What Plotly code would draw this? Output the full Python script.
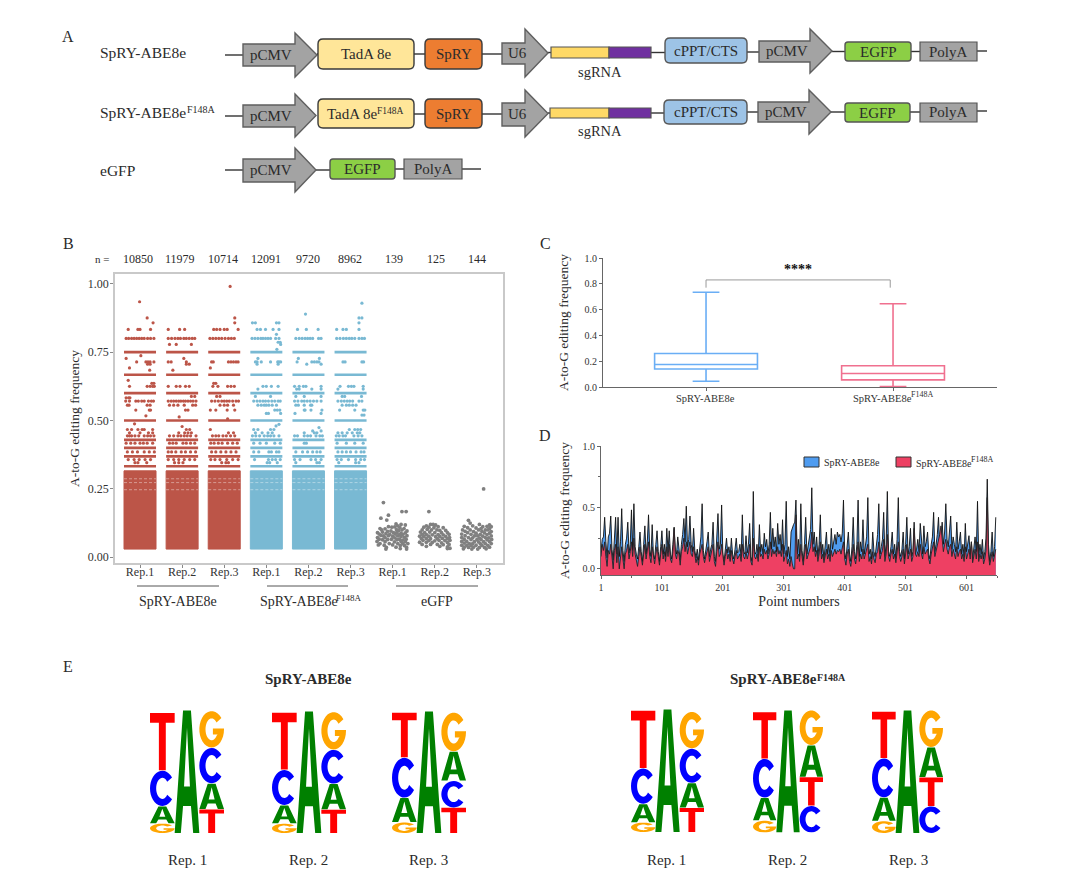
import math
import plotly.graph_objects as go

# ---------- data ----------
W, H = 1080, 886
FONT = "Liberation Serif"
INK = "#2b2b2b"

# Panel B
n_counts = ["10850", "11979", "10714", "12091", "9720", "8962", "139", "125", "144"]
rep_labels = ["Rep.1", "Rep.2", "Rep.3"] * 3
# The lower part of each column is saturated in the picture: individual points cannot be
# read, so it is shown as the solid block that it appears as, with its visible edges.
dense_low = 0.03
dense_high = 0.316
gap_levels = [0.247, 0.273, 0.287]
band_levels = [0.75, 0.667, 0.6, 0.5, 0.429, 0.4, 0.369, 0.333]

abe_rep1 = [(.934,[-.01]),(.875,[.17]),(.857,[.31]),(.833,[-.28,-.05,.0,.25]),
 (.8,[-.33,-.27,-.2,-.14,-.08,-.02,.04,.1,.18,.25,.33]),(.737,[.02]),(.727,[-.33]),(.714,[-.08,.14,.19,.24,.33]),
 (.706,[.18,.24]),(.692,[-.25]),(.684,[.23]),(.647,[-.28]),(.636,[.28,.33]),(.625,[-.25,.17,.24,.3,.34]),
 (.583,[-.33,-.27,-.24]),(.571,[-.34,-.25,-.1,-.04,.04,.1,.2,.27,.32]),(.556,[-.3,-.26,.17,.24]),(.538,[-.1,.22,.25]),
 (.517,[.14]),(.488,[-.13]),(.467,[-.3,-.2,-.05,.05,.1,.3]),(.455,[-.25,.0,.2,.3]),
 (.444,[-.3,-.25,-.2,-.12,-.03,.1,.18,.25,.33]),(.417,[-.33,-.22,-.12,.0,.08,.17,.3]),(.385,[-.3,-.18,-.06,.1,.22,.34]),
 (.357,[-.28,-.14,-.02,.12,.25]),(.346,[-.12,-.05,.16])]
abe_rep2 = [(.833,[-.33,-.06,.06]),(.8,[-.33,-.25,-.17,-.1,-.04,.04,.1,.17,.24,.3]),(.778,[-.3,-.14,.22]),
 (.727,[.04]),(.714,[-.33,-.26,.1]),(.706,[.1,.17]),(.684,[-.22]),(.625,[-.33,-.14,-.05,.08,.17]),(.588,[.22,.3]),
 (.571,[-.33,-.26,-.2,-.14,-.08,-.03,.03,.08,.14,.2,.26,.33]),(.556,[-.3,-.2,-.1,.05,.25,.32]),(.538,[.08,.14]),
 (.513,[-.07]),(.478,[.0]),(.467,[.1,.18]),(.455,[-.08,.06,.14,.22]),(.444,[-.3,-.2,-.1,-.03,.05,.12,.2,.33]),
 (.417,[-.3,-.22,-.14,.02,.1,.2,.3]),(.385,[-.33,-.25,-.15,-.02,.08,.2,.32]),(.357,[-.33,-.2,-.08,.05,.18,.3]),
 (.346,[-.18,-.08,.02])]
abe_rep3 = [(.99,[.14]),(.875,[.25]),(.857,[.25]),(.833,[-.25,-.18,-.1,.0,.07,.33]),
 (.8,[-.34,-.27,-.2,-.13,-.06,.02,.1,.17,.24]),(.714,[-.3,-.26,.1,.16,.22,.28,.33]),(.692,[-.33]),
 (.636,[-.25,-.2]),(.625,[-.27,-.15,.08,.16,.24]),(.588,[-.18,-.1]),
 (.571,[-.3,-.22,-.14,-.06,.0,.06,.12,.2,.28,.34]),(.556,[-.1,.0,.08,.22]),(.538,[-.33,-.2,.07,.25]),(.506,[.08]),
 (.467,[-.33]),(.455,[.1,.22]),(.444,[-.28,-.2,-.13,-.03,.05,.15,.25]),(.417,[-.32,-.24,-.14,-.05,.08,.2,.31]),
 (.385,[-.3,-.2,-.08,.04,.16,.28]),(.357,[-.32,-.22,-.1,.06,.2,.33]),(.346,[-.06,.04,.1])]
f148_rep1 = [(.857,[-.33,-.26,.24,.3]),(.833,[-.22,-.14,-.02,.16,.3]),(.815,[.24]),
 (.8,[-.34,-.27,-.2,-.13,-.08,-.02,.04,.1,.22,.3]),(.786,[.28,.33]),(.778,[.34]),(.76,[.25]),(.727,[-.2]),
 (.714,[-.26,-.22,-.12,.1,.27,.3,.34]),(.706,[-.22,.28]),(.625,[-.08,.0,.12,.28]),(.615,[-.2]),(.588,[-.26,.1]),
 (.571,[-.3,-.22,-.15,-.08,-.02,.05,.13,.2,.28,.33]),(.556,[-.2,-.12,-.05,.0,.06,.14,.24]),(.538,[.2,.26,.32]),
 (.526,[.0,.05,.34]),(.486,[.3]),(.48,[.23]),(.467,[-.3,-.2,.1,.18]),(.455,[-.26,-.1,.04,.14]),
 (.444,[-.33,-.25,-.16,-.05,.03,.1,.18,.3]),(.417,[-.3,-.15,.0,.2,.33]),(.385,[-.3,-.18,.06,.12,.24,.3]),
 (.357,[-.28,.05,.14,.22,.33]),(.346,[.02,.08,.26])]
f148_rep2 = [(.889,[-.07]),(.833,[-.26,-.05,.23]),(.8,[-.3,-.22,-.15,-.08,-.02,.04,.1,.24,.3]),
 (.727,[-.24,.26]),(.714,[-.27,.08,.14,.2,.25]),(.706,[-.04,.3]),(.625,[-.33,-.22,-.12,-.06,.3]),
 (.615,[-.28,-.22,.08,.3]),(.588,[-.3,-.1,.3]),(.571,[-.33,-.25,-.16,-.1,-.03,.04,.12,.2,.3]),(.556,[-.3,-.24,-.1,.05,.08]),
 (.538,[-.1,-.08,.06,.32]),(.526,[-.32,.3]),(.474,[.25]),(.462,[.1,.3]),(.455,[-.1,.14,.2]),
 (.444,[-.33,-.26,-.1,-.02,.05,.18,.27,.33]),(.417,[-.1,-.05]),(.385,[-.3,-.14,-.02,.1,.2,.28]),
 (.357,[-.33,-.2,.06,.17,.3]),(.346,[-.3,.2,.26])]
f148_rep3 = [(.929,[.27]),(.875,[.2,.27]),(.857,[.2]),(.833,[-.33,-.18,-.1,.2]),
 (.8,[-.33,-.25,-.17,-.1,-.03,.03,.1,.2,.27,.33]),(.714,[-.18,-.13,.27,.31]),(.625,[-.25,-.05,.02,.08,.3]),
 (.615,[-.3,.3]),(.588,[-.2,-.14,.26]),(.571,[-.3,-.22,-.15,-.08,-.02,.05,.2,.27]),(.556,[-.2,-.1,-.03,.05,.13]),
 (.538,[-.26,.1,.3,.34]),(.52,[.27,.32]),(.467,[-.03,.1,.17,.24]),(.455,[-.3,-.2,-.08,.04,.16,.22]),
 (.444,[-.34,-.27,-.18,-.12,.08,.18,.27]),(.417,[-.32,-.1,.1,.3]),(.385,[-.3,-.2,-.1,.0,.13,.25,.32]),
 (.357,[-.32,-.22,-.05,.12,.24,.33]),(.346,[-.28,.12,.2])]

gfp_rep1 = [(-.22,.2),(.22,.167),(.32,.167),(-.1,.154),(-.28,.143),(-.14,.136),(.08,.122),(.2,.12),(.3,.118),(.12,.115),
 (-.1,.112),(-.02,.11),(.05,.111),(.17,.109),(-.3,.105),(-.18,.104),(.27,.105),(-.26,.1),(.09,.101),(.14,.098),(.22,.1),
 (-.12,.095),(-.04,.096),(.34,.096),(-.36,.09),(-.24,.092),(.02,.09),(.1,.091),(.2,.088),(.3,.089),(-.32,.085),(-.16,.086),
 (-.07,.084),(.06,.085),(.16,.083),(.24,.084),(-.28,.08),(-.22,.078),(-.1,.079),(.0,.077),(.12,.078),(.2,.076),(.34,.079),
 (-.36,.072),(-.18,.072),(.05,.071),(.28,.073),(-.32,.066),(-.24,.064),(-.12,.065),(-.03,.066),(.1,.064),(.16,.066),(.24,.063),
 (.32,.066),(-.37,.058),(-.18,.057),(.04,.056),(.2,.058),(.3,.057),(-.3,.05),(-.08,.05),(.12,.05),(.24,.05),(.36,.05),
 (-.34,.045),(-.2,.044),(.0,.045),(.18,.043),(.28,.043),(-.15,.036),(.08,.037),(.33,.036),(-.16,.03),(.18,.032),(.33,.03)]
gfp_rep2 = [(-.14,.167),(-.1,.12),(-.04,.12),(.02,.118),(-.2,.115),(.08,.112),(-.26,.11),(-.14,.11),(-.02,.108),(.2,.108),
 (-.3,.1),(-.18,.102),(-.08,.1),(.05,.1),(.12,.098),(.26,.098),(-.34,.092),(-.24,.09),(-.12,.092),(.0,.09),(.16,.09),(.3,.09),
 (-.3,.084),(-.2,.083),(-.06,.082),(.08,.083),(.2,.082),(.34,.084),(-.36,.077),(-.26,.076),(-.14,.077),(.02,.075),(.12,.076),
 (.26,.076),(.35,.072),(-.32,.069),(-.2,.069),(-.1,.068),(.06,.068),(.18,.069),(.3,.068),(-.28,.062),(-.14,.061),(.0,.06),
 (.1,.062),(.24,.061),(.36,.062),(-.36,.055),(-.2,.055),(-.06,.054),(.16,.053),(.3,.054),(-.3,.047),(-.1,.047),(.06,.047),
 (.2,.046),(.34,.047),(-.2,.04),(.12,.04),(.3,.038),(.36,.033),(.3,.032)]
gfp_rep3 = [(.16,.25),(-.2,.135),(-.16,.125),(.06,.12),(.3,.118),(-.3,.113),(-.1,.115),(.14,.112),(.24,.113),(.34,.112),
 (-.22,.108),(-.02,.107),(.1,.105),(.3,.105),(-.34,.1),(-.16,.1),(.04,.1),(.2,.1),(.26,.1),(-.28,.095),(-.08,.094),(.12,.095),
 (.34,.094),(-.22,.09),(-.02,.088),(.18,.089),(.3,.088),(-.36,.085),(-.14,.084),(.08,.084),(.24,.083),(-.28,.079),(-.06,.078),
 (.02,.078),(.14,.077),(.34,.078),(-.36,.072),(-.2,.072),(-.1,.071),(.06,.07),(.2,.072),(.28,.071),(-.3,.066),(-.14,.065),
 (.0,.064),(.1,.065),(.24,.064),(.35,.065),(-.36,.058),(-.24,.058),(-.06,.057),(.04,.056),(.16,.057),(.3,.058),(-.3,.052),
 (-.18,.05),(-.1,.05),(.08,.05),(.2,.05),(.34,.05),(-.36,.044),(-.24,.044),(-.14,.043),(-.02,.044),(.12,.044),(.26,.043),
 (-.3,.037),(-.2,.036),(-.08,.037),(.06,.036),(.18,.036),(.3,.037),(-.32,.031),(-.12,.03),(.02,.03),(.22,.031)]

# Panel C
box_low = [0.045, 0.003]
box_q1 = [0.14, 0.055]
box_median = [0.175, 0.105]
box_q3 = [0.26, 0.165]
box_high = [0.735, 0.645]
bracket_x = [0, 0, 0.985, 0.985]
bracket_y = [0.77, 0.83, 0.83, 0.77]

# Panel D: every second point of the 650
abe_values = [.14,.24,.26,.42,.22,.09,.26,.29,.43,.16,.07,.28,.42,.12,.42,.10,.22,.49,.15,.06,.2,.25,.38,.13,.2,.48,.15,.53,.18,.12,
 .08,.18,.30,.14,.06,.2,.35,.12,.22,.44,.16,.1,.36,.12,.08,.2,.31,.14,.06,.18,.31,.12,.2,.1,.33,.14,.31,.12,.08,.2,
 .34,.16,.12,.26,.18,.07,.2,.28,.41,.22,.51,.18,.24,.43,.2,.14,.33,.15,.09,.16,.07,.2,.26,.53,.15,.08,.14,.22,.30,.1,
 .16,.2,.38,.1,.06,.22,.45,.16,.2,.52,.12,.06,.15,.25,.13,.18,.1,.25,.12,.08,.16,.25,.13,.14,.2,.1,.44,.14,.12,.27,
 .13,.2,.37,.1,.06,.63,.14,.12,.2,.1,.36,.14,.2,.12,.29,.18,.24,.12,.2,.46,.16,.33,.18,.26,.14,.37,.2,.28,.15,.40,
 .12,.2,.55,.1,.18,.08,.30,.34,.36,.38,.56,.12,.24,.1,.53,.15,.06,.2,.42,.12,.2,.24,.32,.66,.2,.3,.14,.26,.1,.2,
 .44,.12,.2,.08,.18,.30,.12,.2,.1,.33,.16,.24,.28,.2,.30,.26,.28,.22,.29,.56,.14,.08,.2,.30,.12,.06,.18,.42,.14,.08,
 .2,.56,.1,.22,.14,.40,.12,.2,.26,.58,.12,.16,.08,.30,.14,.1,.2,.28,.53,.12,.18,.24,.46,.1,.2,.63,.14,.1,.18,.30,
 .12,.2,.08,.24,.58,.14,.1,.16,.30,.08,.2,.42,.12,.18,.33,.1,.14,.38,.12,.16,.24,.14,.37,.2,.12,.35,.18,.22,.30,.12,
 .08,.2,.26,.46,.14,.2,.28,.42,.18,.24,.38,.2,.3,.53,.24,.18,.3,.43,.16,.26,.2,.14,.38,.16,.22,.30,.12,.2,.1,.37,
 .14,.2,.27,.12,.22,.08,.2,.26,.14,.55,.1,.2,.12,.24,.08,.14,.25,.73,.2,.06,.14,.30,.1,.18,.42]
f148_values = [.1,.2,.15,.22,.1,.02,.15,.12,.2,.08,.0,.15,.2,.05,.18,.0,.12,.18,.08,.0,.12,.15,.2,.08,.14,.22,.1,.25,.12,.06,
 .02,.1,.18,.1,.03,.12,.2,.08,.15,.22,.1,.05,.18,.08,.04,.12,.18,.1,.03,.12,.2,.08,.14,.06,.18,.1,.2,.08,.05,.14,
 .33,.12,.08,.15,.12,.03,.14,.18,.25,.14,.22,.12,.16,.22,.12,.1,.18,.1,.05,.1,.03,.12,.16,.2,.1,.05,.1,.14,.18,.06,
 .1,.14,.2,.06,.02,.14,.22,.1,.12,.2,.08,.03,.1,.16,.08,.12,.06,.15,.08,.04,.1,.15,.08,.1,.12,.06,.2,.1,.08,.14,
 .08,.12,.2,.06,.03,.25,.1,.08,.12,.06,.18,.1,.12,.08,.16,.12,.15,.08,.12,.22,.1,.16,.12,.15,.1,.18,.12,.15,.1,.2,
 .06,.1,.15,.04,.08,.02,.1,.04,.0,.0,.44,.08,.12,.06,.2,.1,.03,.12,.2,.08,.12,.14,.18,.3,.14,.18,.1,.15,.06,.12,
 .22,.08,.12,.05,.1,.16,.08,.12,.06,.15,.1,.14,.16,.12,.15,.14,.16,.12,.16,.22,.08,.03,.12,.16,.06,.02,.1,.2,.08,.04,
 .12,.22,.06,.12,.08,.16,.08,.12,.14,.2,.06,.1,.04,.14,.08,.05,.12,.14,.22,.08,.12,.15,.24,.06,.12,.28,.1,.06,.12,.16,
 .08,.12,.05,.14,.22,.1,.06,.1,.16,.04,.12,.2,.08,.12,.16,.06,.1,.33,.12,.1,.14,.1,.2,.12,.08,.18,.12,.14,.16,.08,
 .04,.12,.16,.22,.1,.14,.18,.24,.28,.35,.2,.14,.2,.24,.16,.12,.18,.2,.1,.16,.12,.08,.18,.1,.14,.16,.08,.12,.06,.18,
 .08,.12,.16,.08,.22,.05,.12,.16,.08,.22,.06,.12,.08,.14,.04,.08,.15,.58,.12,.03,.08,.14,.06,.1,.16]
d_ticks = [1, 101, 201, 301, 401, 501, 601]
point_numbers = list(range(1, 2 * len(abe_values) + 1, 2))

# Panel E: stack heights, bottom to top, for positions 1 and 3 (position 2 is all A)
logo_abe1_left = [("G",.08),("A",.14),("C",.29),("T",.47)]
logo_abe1_right = [("T",.195),("A",.21),("C",.29),("G",.30)]
logo_abe2_left = [("G",.08),("A",.15),("C",.29),("T",.47)]
logo_abe2_right = [("T",.195),("A",.21),("C",.28),("G",.31)]
logo_abe3_left = [("G",.09),("A",.2),("C",.33),("T",.37)]
logo_abe3_right = [("T",.21),("C",.22),("A",.24),("G",.32)]
logo_f148_1_left = [("G",.08),("A",.15),("C",.29),("T",.47)]
logo_f148_1_right = [("T",.2),("A",.2),("C",.28),("G",.30)]
logo_f148_2_left = [("G",.10),("A",.185),("C",.32),("T",.38)]
logo_f148_2_right = [("C",.22),("T",.235),("A",.26),("G",.285)]
logo_f148_3_left = [("G",.10),("A",.19),("C",.32),("T",.38)]
logo_f148_3_right = [("C",.22),("T",.235),("A",.245),("G",.30)]
logo_middle = [("A",1.0)]

# ---------- layout helpers ----------
fig = go.Figure()
layout = dict(width=W, height=H, margin=dict(l=0, r=0, t=0, b=0, autoexpand=False), paper_bgcolor="white", plot_bgcolor="rgba(0,0,0,0)",
              showlegend=False, font=dict(family=FONT, color=INK, size=13), hovermode=False)
def dx(a, b): return [a / W, b / W]
def dy(top, bottom): return [1 - bottom / H, 1 - top / H]
BLANK = dict(showline=False, showgrid=False, zeroline=False, showticklabels=False, ticks="", fixedrange=True)

# overlay in page pixels for the schematic and labels
layout["xaxis"] = dict(domain=[0, 1], range=[0, W], **BLANK)
layout["yaxis"] = dict(domain=[0, 1], range=[H, 0], **BLANK)
fig.add_trace(go.Scatter(x=[0], y=[0], mode="markers", marker=dict(size=1, opacity=0), hoverinfo="skip"))
shapes, notes = [], []

def note(x, y, text, size=14, anchor="center", angle=0, color=INK):
    notes.append(dict(x=x, y=y, xref="x", yref="y", text=text, showarrow=False, xanchor=anchor, yanchor="middle",
                      textangle=angle, borderpad=0, font=dict(family=FONT, size=size, color=color)))
def hline(x0, x1, y, color="#333333", w=1.4):
    shapes.append(dict(type="line", x0=x0, x1=x1, y0=y, y1=y, xref="x", yref="y", line=dict(color=color, width=w)))
def arrow(x0, neck, tip, top, bottom, htop, hbot, label, lx=None):
    c = (htop + hbot) / 2
    p = f"M{x0},{top}L{neck},{top}L{neck},{htop}L{tip},{c}L{neck},{hbot}L{neck},{bottom}L{x0},{bottom}Z"
    shapes.append(dict(type="path", path=p, xref="x", yref="y", fillcolor="#a3a3a3", line=dict(color="#5f5f5f", width=1.4)))
    note(lx if lx else (x0 + neck) / 2 + 2, c, label, 15)
def box(x0, x1, y0, y1, fill, label, r=4, border="#3a3a3a", size=15, lw=1.4):
    p = (f"M{x0+r},{y0}L{x1-r},{y0}Q{x1},{y0} {x1},{y0+r}L{x1},{y1-r}Q{x1},{y1} {x1-r},{y1}"
         f"L{x0+r},{y1}Q{x0},{y1} {x0},{y1-r}L{x0},{y0+r}Q{x0},{y0} {x0+r},{y0}Z")
    shapes.append(dict(type="path", path=p, xref="x", yref="y", fillcolor=fill, line=dict(color=border, width=lw)))
    if label:
        note((x0 + x1) / 2, (y0 + y1) / 2, label, size)
def rect(x0, x1, y0, y1, fill, border="#555555", lw=1.2):
    shapes.append(dict(type="rect", x0=x0, x1=x1, y0=y0, y1=y1, xref="x", yref="y", fillcolor=fill, line=dict(color=border, width=lw)))

YEL, ORG, GRN, BLU, GRY = "#ffe699", "#ed7d31", "#8ccf45", "#9dc3e6", "#a3a3a3"

# Panel A
note(68, 36, "A", 16)
note(99, 52, "SpRY-ABE8e", 15.5, "left")
note(99, 112, "SpRY-ABE8e", 15.5, "left")
note(186, 109, "F148A", 10, "left")
note(99, 170, "eGFP", 15.5, "left")

for y in (55, 116, 170):
    hline(225, 243, y)
hline(317, 318, 54); hline(414, 425, 54); hline(482, 502, 54); hline(548, 551, 52.5); hline(651, 665, 52.5)
hline(747, 759, 52); hline(832, 845, 51.5); hline(911, 920, 51.5); hline(977, 987, 51)
hline(414, 425, 114); hline(482, 502, 114); hline(548, 551, 113); hline(651, 664, 113)
hline(747, 758, 112); hline(831, 845, 112); hline(910, 920, 112); hline(977, 987, 111)
hline(316, 330, 170); hline(395, 404, 169); hline(462, 481, 169)

arrow(243, 295, 317, 44, 66, 33, 77, "pCMV")
box(318, 414, 39, 69, YEL, "TadA 8e", 5)
box(425, 482, 39, 69, ORG, "SpRY", 5)
arrow(502, 525, 548, 43, 64, 29, 77, "U6", 517)
rect(551, 609, 47, 58, "#ffd966"); rect(609, 651, 47, 58, "#7030a0")
note(600, 72, "sgRNA", 14.5)
box(665, 747, 38, 63, BLU, "cPPT/CTS", 5, "#555555")
arrow(759, 810, 832, 41, 62, 29, 73, "pCMV")
box(845, 911, 42, 61, GRN, "EGFP", 3, "#555555")
rect(920, 977, 42, 61, GRY); note(948.5, 51.5, "PolyA", 15)

arrow(243, 295, 316, 105, 127, 94, 137, "pCMV")
box(318, 414, 99, 128, YEL, None, 5)
note(326, 114, "TadA 8e", 15, "left")
note(376, 111, "F148A", 9.5, "left")
box(425, 482, 99, 128, ORG, "SpRY", 5)
arrow(502, 525, 548, 103, 126, 90, 137, "U6", 517)
rect(550, 609, 108, 118, "#ffd966"); rect(609, 651, 108, 118, "#7030a0")
note(600, 131, "sgRNA", 14.5)
box(664, 747, 100, 124, BLU, "cPPT/CTS", 5, "#555555")
arrow(758, 809, 831, 102, 122, 90, 134, "pCMV")
box(845, 910, 103, 122, GRN, "EGFP", 3, "#555555")
rect(920, 977, 103, 122, GRY); note(948.5, 112, "PolyA", 15)

arrow(243, 295, 316, 159, 182, 148, 192, "pCMV")
box(330, 395, 159, 179, GRN, "EGFP", 3, "#555555")
rect(404, 462, 159, 179, GRY); note(433, 169, "PolyA", 15)

# Panel B
B_RED, B_BLUE, B_GRAY = "#bc5548", "#79b9d3", "#808080"
layout["xaxis2"] = dict(domain=dx(115, 503), range=[0.406, 9.62], anchor="y2", showgrid=False, zeroline=False,
                        tickmode="array", tickvals=list(range(1, 10)), ticktext=rep_labels, ticks="outside", ticklen=3,
                        tickcolor="#888888", tickfont=dict(size=12, color="#333333"), mirror=True, showline=True,
                        linecolor="#c9c9c9", linewidth=1.5, fixedrange=True, ticklabelstandoff=-6)
layout["yaxis2"] = dict(domain=dy(274, 563), range=[-0.0209, 1.0355], anchor="x2", showgrid=False, zeroline=False,
                        tickmode="array", tickvals=[0, .25, .5, .75, 1], ticktext=["0.00", "0.25", "0.50", "0.75", "1.00"],
                        ticks="outside", ticklen=3, tickcolor="#888888", tickfont=dict(size=12, color="#333333"), mirror=True,
                        showline=True, linecolor="#c9c9c9", linewidth=1.5, fixedrange=True, ticklabelstandoff=-1,
                        title=dict(text="A-to-G editing frequency", font=dict(size=13.5, color=INK), standoff=5))

hw = 0.38
columns = [(1, B_RED, abe_rep1), (2, B_RED, abe_rep2), (3, B_RED, abe_rep3),
           (4, B_BLUE, f148_rep1), (5, B_BLUE, f148_rep2), (6, B_BLUE, f148_rep3)]
for pos, col, rows in columns:
    fig.add_trace(go.Scatter(x=[pos - hw, pos + hw, pos + hw, pos - hw, pos - hw],
                             y=[dense_low, dense_low, dense_high, dense_high, dense_low],
                             mode="lines", fill="toself", fillcolor=col, line=dict(color=col, width=1), xaxis="x2", yaxis="y2", hoverinfo="skip"))
    bx, by = [], []
    for lv in band_levels:
        bx += [pos - hw, pos + hw, None]; by += [lv, lv, None]
    fig.add_trace(go.Scatter(x=bx, y=by, mode="lines", line=dict(color=col, width=2.6), xaxis="x2", yaxis="y2", hoverinfo="skip"))
    gx, gy = [], []
    for lv in gap_levels:
        gx += [pos - hw, pos + hw, None]; gy += [lv, lv, None]
    fig.add_trace(go.Scatter(x=gx, y=gy, mode="lines", line=dict(color="rgba(255,255,255,0.4)", width=1, dash="3px,2px"), xaxis="x2", yaxis="y2", hoverinfo="skip"))
    px, py = [], []
    for v, offs in rows:
        for o in offs:
            px.append(pos + o); py.append(v)
    fig.add_trace(go.Scatter(x=px, y=py, mode="markers", marker=dict(color=col, size=3.2, line=dict(width=0)), xaxis="x2", yaxis="y2", hoverinfo="skip"))
for pos, pts in [(7, gfp_rep1), (8, gfp_rep2), (9, gfp_rep3)]:
    fig.add_trace(go.Scatter(x=[pos + p[0] for p in pts], y=[p[1] for p in pts], mode="markers",
                             marker=dict(color=B_GRAY, size=3.8, line=dict(width=0)), xaxis="x2", yaxis="y2", hoverinfo="skip"))

note(68, 243, "B", 16)
note(102, 259, "n =", 11)
for xp, t in zip([138, 180, 223, 266, 308, 350, 394, 436, 477], n_counts):
    note(xp, 259, t, 12)
for x0, x1 in [(137, 219), (267, 348), (396, 478)]:
    hline(x0, x1, 586, "#555555", 1)
note(178, 601, "SpRY-ABE8e", 14)
note(259, 601, "SpRY-ABE8e", 14, "left")
note(335, 598, "F148A", 9, "left")
note(437, 601, "eGFP", 14)

# Panel C
C_BLUE, C_PINK = "#6aaef5", "#f0708f"
layout["xaxis3"] = dict(domain=dx(603, 997), range=[-0.551, 1.556], anchor="y3", showgrid=False, zeroline=False, showline=True,
                        linecolor="#666666", linewidth=1, tickmode="array", tickvals=[0, 1], showticklabels=False,
                        ticks="outside", ticklen=3, tickcolor="#666666", fixedrange=True)
layout["yaxis3"] = dict(domain=dy(258, 387), range=[0, 1], anchor="x3", showgrid=False, zeroline=False, showline=True,
                        linecolor="#666666", linewidth=1, tickmode="array", tickvals=[0, .2, .4, .6, .8, 1],
                        ticktext=["0.0", "0.2", "0.4", "0.6", "0.8", "1.0"], ticks="outside", ticklen=3, tickcolor="#666666",
                        tickfont=dict(size=10, color="#333333"), fixedrange=True,
                        title=dict(text="A-to-G editing frequency", font=dict(size=13.5, color=INK), standoff=12))
for i, colr in enumerate([C_BLUE, C_PINK]):
    fig.add_trace(go.Box(x=[i], q1=[box_q1[i]], median=[box_median[i]], q3=[box_q3[i]], lowerfence=[box_low[i]], upperfence=[box_high[i]],
                         width=0.55, whiskerwidth=0.26, boxpoints=False, fillcolor="rgba(0,0,0,0)", line=dict(color=colr, width=1.6),
                         xaxis="x3", yaxis="y3", hoverinfo="skip"))
fig.add_trace(go.Scatter(x=bracket_x, y=bracket_y, mode="lines", line=dict(color="#999999", width=1), xaxis="x3", yaxis="y3", hoverinfo="skip"))
note(545, 243, "C", 16)
note(798, 269, "<b>****</b>", 14, color="#111111")
note(705, 398, "SpRY-ABE8e", 10.5, color="#333333")
note(852, 398, "SpRY-ABE8e", 10.5, "left", color="#333333")
note(910, 394, "F148A", 8, "left", color="#333333")

# Panel D
D_BLUE, D_RED = "#4f9cf0", "#ee4063"
layout["xaxis4"] = dict(domain=dx(601, 997), range=[1, 651], anchor="y4", showgrid=False, zeroline=False, showline=True,
                        linecolor="#666666", linewidth=1, tickmode="array", tickvals=d_ticks, ticks="outside", ticklen=3,
                        tickcolor="#666666", tickfont=dict(size=10, color="#333333"), fixedrange=True,
                        minor=dict(tickmode="array", tickvals=[51, 151, 251, 351, 451, 551, 651], ticks="outside", ticklen=2, tickcolor="#666666"),
                        title=dict(text="Point numbers", font=dict(size=14, color=INK), standoff=4))
layout["yaxis4"] = dict(domain=dy(446, 575), range=[-0.05, 1.0], anchor="x4", showgrid=False, zeroline=False, showline=True,
                        linecolor="#666666", linewidth=1, tickmode="array", tickvals=[0, .5, 1], ticktext=["0.0", "0.5", "1.0"],
                        ticks="outside", ticklen=3, tickcolor="#666666", tickfont=dict(size=10, color="#333333"), fixedrange=True,
                        minor=dict(tickmode="array", tickvals=[.25, .75], ticks="outside", ticklen=2, tickcolor="#666666"),
                        title=dict(text="A-to-G editing frequency", font=dict(size=13.5, color=INK), standoff=9))
base = [-0.05] * len(point_numbers)
fig.add_trace(go.Scatter(x=point_numbers, y=base, mode="lines", line=dict(width=0), xaxis="x4", yaxis="y4", hoverinfo="skip"))
fig.add_trace(go.Scatter(x=point_numbers, y=abe_values, mode="lines", fill="tonexty", fillcolor=D_BLUE, line=dict(color="#111111", width=0.9),
                         xaxis="x4", yaxis="y4", hoverinfo="skip", name="SpRY-ABE8e"))
fig.add_trace(go.Scatter(x=point_numbers, y=base, mode="lines", line=dict(width=0), xaxis="x4", yaxis="y4", hoverinfo="skip"))
fig.add_trace(go.Scatter(x=point_numbers, y=f148_values, mode="lines", fill="tonexty", fillcolor=D_RED, line=dict(color="#222222", width=0.9),
                         xaxis="x4", yaxis="y4", hoverinfo="skip", name="SpRY-ABE8e F148A"))
note(545, 435, "D", 16)
rect(804, 819, 457, 467, D_BLUE, "#333333", 1)
rect(896, 911, 457, 467, D_RED, "#333333", 1)
note(823, 462, "SpRY-ABE8e", 10, "left")
note(915, 463, "SpRY-ABE8e", 10, "left")
note(970, 459, "F148A", 8, "left")

# Panel E
LETTER_COLORS = {"T": "#ff0000", "A": "#008000", "C": "#0000ff", "G": "#ffa500"}
def arc(rx, ry, a0, a1, steps=28):
    return [(0.5 + rx * math.cos(math.radians(a0 + (a1 - a0) * k / steps)),
             0.5 + ry * math.sin(math.radians(a0 + (a1 - a0) * k / steps))) for k in range(steps + 1)]
GLYPHS = {
    "T": [[(0, 1), (1, 1), (1, .83), (.64, .83), (.64, 0), (.36, 0), (.36, .83), (0, .83)]],
    "A": [[(.34, 1), (.66, 1), (1, 0), (.75, 0), (.66, .22), (.34, .22), (.25, 0), (0, 0)],
          [(.38, .38), (.62, .38), (.5, .86)]],
    "C": [arc(.5, .5, 38, 322) + arc(.25, .3, 322, 38)],
    "G": [arc(.5, .5, 38, 360) + [(1, .52), (.55, .52), (.55, .36), (.74, .36)] + arc(.25, .3, 325, 38)],
}
def letter_path(ch, col, y0, h):
    parts = []
    for poly in GLYPHS[ch]:
        pts = [(col - .5 + px_, y0 + py_ * h) for px_, py_ in poly]
        parts.append("M" + "L".join(f"{a:.4f},{b:.4f}" for a, b in pts) + "Z")
    return "".join(parts)
logos = [(150, 224, 710, 833, logo_abe1_left, logo_abe1_right), (272, 346, 711, 833, logo_abe2_left, logo_abe2_right),
         (392, 466, 711, 833, logo_abe3_left, logo_abe3_right), (631, 704, 709, 832, logo_f148_1_left, logo_f148_1_right),
         (753, 823, 710, 832.5, logo_f148_2_left, logo_f148_2_right), (872, 943, 710, 833, logo_f148_3_left, logo_f148_3_right)]
for i, (x0, x1, top, bot, left, right) in enumerate(logos):
    k = 5 + i
    layout[f"xaxis{k}"] = dict(domain=dx(x0, x1), range=[.5, 3.5], anchor=f"y{k}", **BLANK)
    layout[f"yaxis{k}"] = dict(domain=dy(top, bot), range=[0, 1], anchor=f"x{k}", **BLANK)
    fig.add_trace(go.Scatter(x=[1], y=[0], mode="markers", marker=dict(size=1, opacity=0), xaxis=f"x{k}", yaxis=f"y{k}", hoverinfo="skip"))
    for col, stack in ((1, left), (2, logo_middle), (3, right)):
        y = 0.0
        for ch, h in stack:
            shapes.append(dict(type="path", path=letter_path(ch, col, y, h - 0.004), xref=f"x{k}", yref=f"y{k}",
                               fillcolor=LETTER_COLORS[ch], line=dict(width=0)))
            y += h
note(68, 666, "E", 16)
note(308, 679, "<b>SpRY-ABE8e</b>", 15)
note(729, 679, "<b>SpRY-ABE8e</b>", 15, "left")
note(816, 677, "<b>F148A</b>", 10, "left")
for xp, t in zip([187, 308, 428, 666, 787, 908], ["Rep. 1", "Rep. 2", "Rep. 3"] * 2):
    note(xp, 860, t, 15)

layout["shapes"] = shapes
layout["annotations"] = notes
fig.update_layout(**layout)
fig.write_html("out.html", config=dict(displayModeBar=False),
               post_script="document.body.style.margin='0';document.body.style.overflow='hidden';")
